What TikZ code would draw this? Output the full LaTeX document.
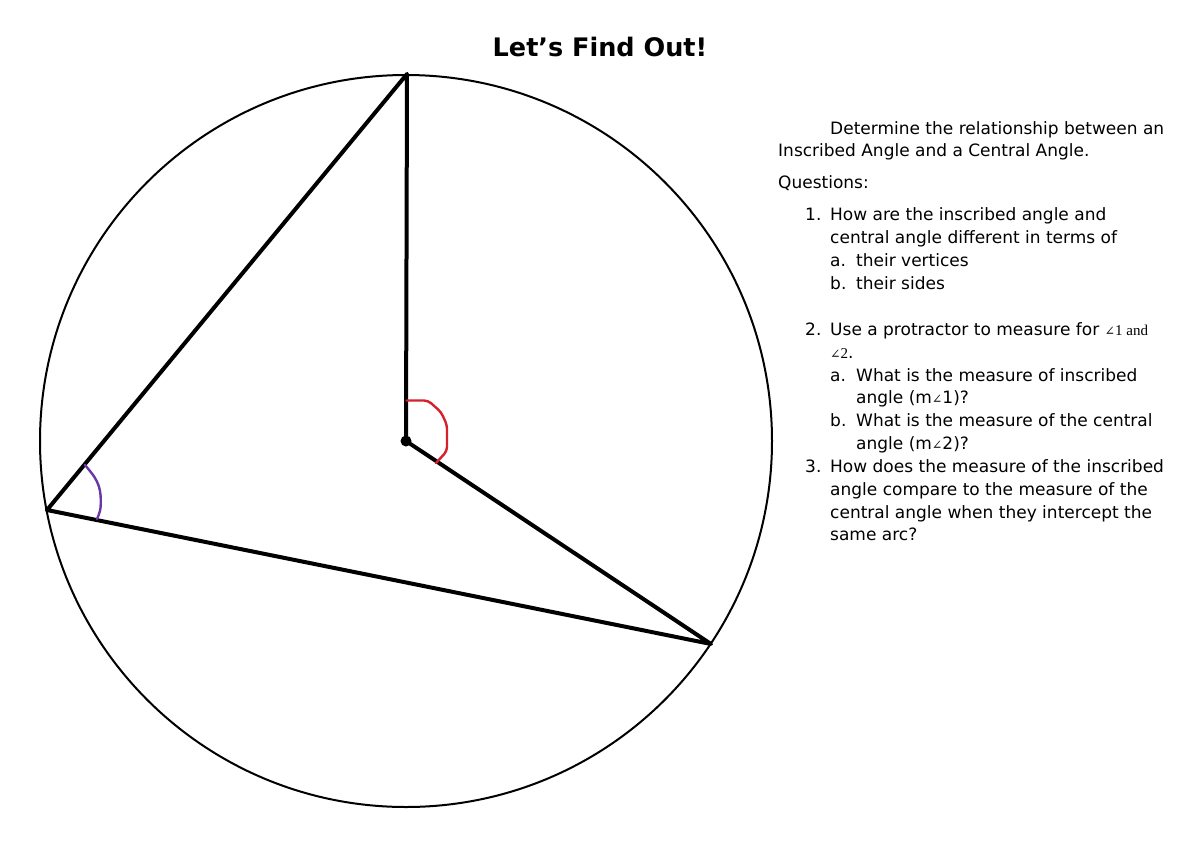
\documentclass[tikz,border=0pt]{standalone}
\usepackage{fontspec}
\setmainfont{DejaVu Sans}
\newfontfamily\serifang{DejaVu Serif}
\newfontfamily\serifnum{Liberation Serif}
\newcommand{\angsym}{{\serifang\fontsize{12.5}{14}\selectfont ∠}}
\definecolor{arcred}{RGB}{214,32,44}
\definecolor{arcpurple}{RGB}{104,56,168}
\begin{document}
\begin{tikzpicture}[x=1pt,y=-1pt,
  txt/.style={anchor=base west,inner sep=0pt,font=\fontsize{17}{20}\selectfont},
  side/.style={line width=4pt,line cap=round,line join=round},
  rim/.style={line width=2pt},
  mark1/.style={line width=2.4pt,color=arcpurple,line cap=round},
  mark2/.style={line width=2.4pt,color=arcred,line cap=round,rounded corners=4pt}]
\useasboundingbox[fill=white] (0,0) rectangle (1200,849);
% points
\coordinate (O) at (406,441);
\coordinate (A) at (407,74);
\coordinate (B) at (47,510);
\coordinate (C) at (711,644);
% circle
\draw[rim] (O) circle (366pt);
% sides
\draw[side] (B) -- (A) -- (O) -- (C) -- (B);
\fill (O) circle (5.5pt);
\node[inner sep=0pt] (dot) at (O) {};
% angle marks
\draw[mark1] plot[smooth,tension=0.6] coordinates {(85,465) (95,478) (100,491) (100.5,508) (97,519)};
\draw[mark2] (406.5,400.5) -- (428,400.5) -- (441,412) -- (447,425) -- (447,451) -- (436,463);
% title
\node[inner sep=0pt,anchor=base,font=\fontsize{25.5}{30}\selectfont\bfseries] (title) at (600,56) {Let’s Find Out!};
% text
\node[txt] (t1) at (830,134) {Determine the relationship between an};
\node[txt] (t2) at (778,156) {Inscribed Angle and a Central Angle.};
\node[txt] (t3) at (778,188) {Questions:};
\node[txt] (n1) at (805,220) {1.};
\node[txt] (q1a) at (830,220) {How are the inscribed angle and};
\node[txt] (q1b) at (830,243) {central angle different in terms of};
\node[txt] (l1a) at (830,266) {a.};
\node[txt] (q1c) at (856,266) {their vertices};
\node[txt] (l1b) at (830,289) {b.};
\node[txt] (q1d) at (856,289) {their sides};
\node[txt] (n2) at (805,335) {2.};
\node[txt] (q2a) at (830,335) {Use a protractor to measure for {\angsym\serifnum\fontsize{15}{17}\selectfont 1 and}};
\node[txt] (q2b) at (830,358) {{\angsym\serifnum\fontsize{15}{17}\selectfont 2}.};
\node[txt] (l2a) at (830,381) {a.};
\node[txt] (q2c) at (856,381) {What is the measure of inscribed};
\node[txt] (q2d) at (856,403) {angle (m\angsym 1)?};
\node[txt] (l2b) at (830,426) {b.};
\node[txt] (q2e) at (856,426) {What is the measure of the central};
\node[txt] (q2f) at (856,449) {angle (m\angsym 2)?};
\node[txt] (n3) at (805,472) {3.};
\node[txt] (q3a) at (830,472) {How does the measure of the inscribed};
\node[txt] (q3b) at (830,495) {angle compare to the measure of the};
\node[txt] (q3c) at (830,518) {central angle when they intercept the};
\node[txt] (q3d) at (830,540) {same arc?};
\end{tikzpicture}
\end{document}
